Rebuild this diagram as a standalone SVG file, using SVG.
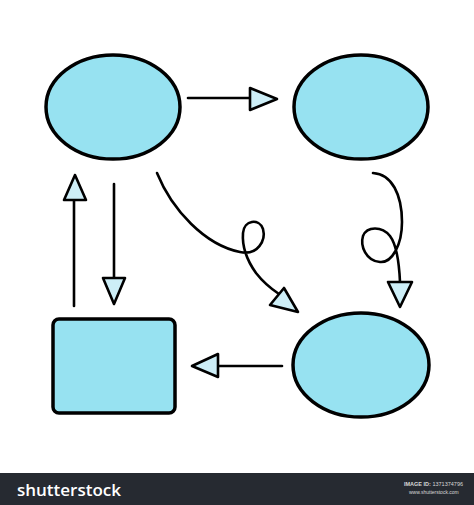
<svg xmlns="http://www.w3.org/2000/svg" width="474" height="505" viewBox="0 0 474 505">
<style>
.node{fill:#97e2f1;stroke:#000;stroke-width:3.5}
.ln{fill:none;stroke:#000;stroke-width:2.6;stroke-linecap:round;stroke-linejoin:round}
.hd{fill:#cdeef7;stroke:#000;stroke-width:2.6;stroke-linejoin:round}
.logo{font-family:"Open Sans","Liberation Sans",sans-serif;font-weight:600;fill:#fff}
.small{font-family:"Liberation Sans",sans-serif;fill:#d8d8d8}
</style>
<rect width="474" height="505" fill="#fff"/>
<g id="node-top-left"><ellipse class="node" cx="113" cy="107" rx="67" ry="52"/></g>
<g id="node-top-right"><ellipse class="node" cx="361" cy="107" rx="67" ry="52"/></g>
<g id="node-bottom-right"><ellipse class="node" cx="361" cy="365" rx="68" ry="52"/></g>
<g id="node-bottom-left"><rect class="node" x="53" y="319" width="122" height="94" rx="6"/></g>
<g id="connectors">
  <path class="ln" d="M188 98 L250 98"/>
  <polygon class="hd" points="250,88 250,110 277,99"/>
  <path class="ln" d="M282 366 L218 366"/>
  <polygon class="hd" points="218,354 218,377 192,366"/>
  <path class="ln" d="M74 306 L74 200"/>
  <polygon class="hd" points="64,200 86,200 75,175"/>
  <path class="ln" d="M114 184 L114 278"/>
  <polygon class="hd" points="103,278 125,278 114,304"/>
  <path class="ln" d="M157 173 C172 210 205 245 240 252 C258 256 266 240 263 229 C259 218 244 220 243 233 C242 246 246 259 256 273 C263 282 270 288 279 294"/>
  <polygon class="hd" points="270,305 284,288 298,312"/>
  <path class="ln" d="M373 173 C392 174 402 195 402 222 C402 245 392 263 380 262 C366 261 360 246 363 236 C367 226 382 226 390 236 C396 244 399 260 400 282"/>
  <polygon class="hd" points="388,282 412,282 400,307"/>
</g>
<g id="footer">
  <rect x="0" y="473" width="474" height="32" fill="#262a31"/>
  <text class="logo" x="17" y="496" font-size="17">shutterstock</text>
  <text class="small" x="404" y="486" font-size="5.5" font-weight="bold">IMAGE ID: <tspan font-weight="normal">1371374796</tspan></text>
  <text class="small" x="409" y="494" font-size="5">www.shutterstock.com</text>
</g>
</svg>
